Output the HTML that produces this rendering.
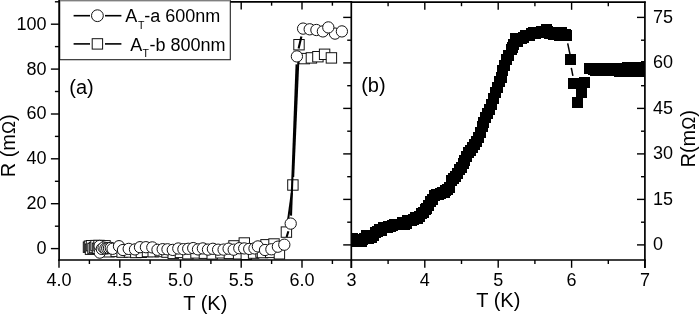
<!DOCTYPE html>
<html><head><meta charset="utf-8"><title>R-T plot</title>
<style>html,body{margin:0;padding:0;background:#fff}svg{display:block}</style></head>
<body>
<svg width="700" height="315" viewBox="0 0 700 315" font-family="Liberation Sans, Arial, sans-serif">
<rect width="700" height="315" fill="#fff"/>
<g stroke="#000" stroke-width="1.4" fill="none">
<line x1="50.9" y1="248.6" x2="58.9" y2="248.6"/>
<line x1="54.9" y1="226.2" x2="58.9" y2="226.2"/>
<line x1="50.9" y1="203.7" x2="58.9" y2="203.7"/>
<line x1="54.9" y1="181.3" x2="58.9" y2="181.3"/>
<line x1="50.9" y1="158.8" x2="58.9" y2="158.8"/>
<line x1="54.9" y1="136.4" x2="58.9" y2="136.4"/>
<line x1="50.9" y1="114.0" x2="58.9" y2="114.0"/>
<line x1="54.9" y1="91.5" x2="58.9" y2="91.5"/>
<line x1="50.9" y1="69.1" x2="58.9" y2="69.1"/>
<line x1="54.9" y1="46.6" x2="58.9" y2="46.6"/>
<line x1="50.9" y1="24.2" x2="58.9" y2="24.2"/>
<line x1="54.9" y1="1.8" x2="58.9" y2="1.8"/>
<line x1="59.0" y1="260" x2="59.0" y2="267.8"/>
<line x1="89.4" y1="260" x2="89.4" y2="264"/>
<line x1="89.4" y1="1.8" x2="89.4" y2="5.7"/>
<line x1="119.8" y1="260" x2="119.8" y2="267.8"/>
<line x1="119.8" y1="1.8" x2="119.8" y2="9.4"/>
<line x1="150.1" y1="260" x2="150.1" y2="264"/>
<line x1="150.1" y1="1.8" x2="150.1" y2="5.7"/>
<line x1="180.5" y1="260" x2="180.5" y2="267.8"/>
<line x1="180.5" y1="1.8" x2="180.5" y2="9.4"/>
<line x1="210.9" y1="260" x2="210.9" y2="264"/>
<line x1="210.9" y1="1.8" x2="210.9" y2="5.7"/>
<line x1="241.2" y1="260" x2="241.2" y2="267.8"/>
<line x1="241.2" y1="1.8" x2="241.2" y2="9.4"/>
<line x1="271.6" y1="260" x2="271.6" y2="264"/>
<line x1="271.6" y1="1.8" x2="271.6" y2="5.7"/>
<line x1="302.0" y1="260" x2="302.0" y2="267.8"/>
<line x1="302.0" y1="1.8" x2="302.0" y2="9.4"/>
<line x1="332.4" y1="260" x2="332.4" y2="264"/>
<line x1="332.4" y1="1.8" x2="332.4" y2="5.7"/>
<line x1="351.4" y1="260" x2="351.4" y2="267.8"/>
<line x1="388.1" y1="260" x2="388.1" y2="264"/>
<line x1="388.1" y1="2.2" x2="388.1" y2="6.2"/>
<line x1="424.8" y1="260" x2="424.8" y2="267.8"/>
<line x1="424.8" y1="2.2" x2="424.8" y2="9.8"/>
<line x1="461.5" y1="260" x2="461.5" y2="264"/>
<line x1="461.5" y1="2.2" x2="461.5" y2="6.2"/>
<line x1="498.2" y1="260" x2="498.2" y2="267.8"/>
<line x1="498.2" y1="2.2" x2="498.2" y2="9.8"/>
<line x1="534.9" y1="260" x2="534.9" y2="264"/>
<line x1="534.9" y1="2.2" x2="534.9" y2="6.2"/>
<line x1="571.6" y1="260" x2="571.6" y2="267.8"/>
<line x1="571.6" y1="2.2" x2="571.6" y2="9.8"/>
<line x1="608.3" y1="260" x2="608.3" y2="264"/>
<line x1="608.3" y1="2.2" x2="608.3" y2="6.2"/>
<line x1="645.0" y1="260" x2="645.0" y2="267.8"/>
<line x1="343.2" y1="244.9" x2="351.3" y2="244.9"/>
<line x1="637" y1="244.9" x2="644.9" y2="244.9"/>
<line x1="347.2" y1="222.2" x2="351.3" y2="222.2"/>
<line x1="641" y1="222.2" x2="644.9" y2="222.2"/>
<line x1="343.2" y1="199.4" x2="351.3" y2="199.4"/>
<line x1="637" y1="199.4" x2="644.9" y2="199.4"/>
<line x1="347.2" y1="176.7" x2="351.3" y2="176.7"/>
<line x1="641" y1="176.7" x2="644.9" y2="176.7"/>
<line x1="343.2" y1="153.9" x2="351.3" y2="153.9"/>
<line x1="637" y1="153.9" x2="644.9" y2="153.9"/>
<line x1="347.2" y1="131.2" x2="351.3" y2="131.2"/>
<line x1="641" y1="131.2" x2="644.9" y2="131.2"/>
<line x1="343.2" y1="108.4" x2="351.3" y2="108.4"/>
<line x1="637" y1="108.4" x2="644.9" y2="108.4"/>
<line x1="347.2" y1="85.7" x2="351.3" y2="85.7"/>
<line x1="641" y1="85.7" x2="644.9" y2="85.7"/>
<line x1="343.2" y1="62.9" x2="351.3" y2="62.9"/>
<line x1="637" y1="62.9" x2="644.9" y2="62.9"/>
<line x1="347.2" y1="40.2" x2="351.3" y2="40.2"/>
<line x1="641" y1="40.2" x2="644.9" y2="40.2"/>
<line x1="343.2" y1="17.4" x2="351.3" y2="17.4"/>
<line x1="637" y1="17.4" x2="644.9" y2="17.4"/>
</g>
<g id="sqseries">
<line x1="281.8" y1="246.2" x2="283.9" y2="239.7" stroke="#000" stroke-width="2.0"/>
<line x1="287.5" y1="224.2" x2="291.8" y2="192.9" stroke="#000" stroke-width="2.0"/>
<line x1="293.2" y1="177.0" x2="298.7" y2="52.7" stroke="#000" stroke-width="2.0"/>
<g fill="#fff" stroke="#111" stroke-width="1">
<rect x="83.3" y="242.0" width="10.4" height="10.4"/>
<rect x="84.3" y="241.0" width="10.4" height="10.4"/>
<rect x="85.3" y="244.0" width="10.4" height="10.4"/>
<rect x="86.3" y="240.5" width="10.4" height="10.4"/>
<rect x="87.8" y="243.3" width="10.4" height="10.4"/>
<rect x="89.3" y="242.3" width="10.4" height="10.4"/>
<rect x="90.8" y="240.4" width="10.4" height="10.4"/>
<rect x="92.3" y="243.1" width="10.4" height="10.4"/>
<rect x="93.8" y="240.3" width="10.4" height="10.4"/>
<rect x="95.3" y="242.7" width="10.4" height="10.4"/>
<rect x="97.3" y="240.5" width="10.4" height="10.4"/>
<rect x="99.8" y="240.6" width="10.4" height="10.4"/>
<rect x="103.8" y="246.6" width="10.4" height="10.4"/>
<rect x="111.0" y="246.2" width="10.4" height="10.4"/>
<rect x="116.9" y="246.9" width="10.4" height="10.4"/>
<rect x="124.3" y="246.8" width="10.4" height="10.4"/>
<rect x="130.6" y="247.3" width="10.4" height="10.4"/>
<rect x="136.2" y="247.1" width="10.4" height="10.4"/>
<rect x="142.3" y="246.3" width="10.4" height="10.4"/>
<rect x="148.0" y="246.5" width="10.4" height="10.4"/>
<rect x="155.1" y="246.3" width="10.4" height="10.4"/>
<rect x="161.8" y="246.9" width="10.4" height="10.4"/>
<rect x="168.0" y="248.2" width="10.4" height="10.4"/>
<rect x="175.2" y="247.2" width="10.4" height="10.4"/>
<rect x="182.7" y="248.5" width="10.4" height="10.4"/>
<rect x="190.8" y="247.7" width="10.4" height="10.4"/>
<rect x="199.2" y="248.0" width="10.4" height="10.4"/>
<rect x="207.0" y="248.7" width="10.4" height="10.4"/>
<rect x="215.7" y="247.6" width="10.4" height="10.4"/>
<rect x="224.2" y="248.2" width="10.4" height="10.4"/>
<rect x="228.8" y="240.7" width="10.4" height="10.4"/>
<rect x="233.4" y="248.6" width="10.4" height="10.4"/>
<rect x="239.1" y="237.8" width="10.4" height="10.4"/>
<rect x="241.1" y="249.1" width="10.4" height="10.4"/>
<rect x="248.4" y="247.9" width="10.4" height="10.4"/>
<rect x="255.8" y="246.9" width="10.4" height="10.4"/>
<rect x="257.3" y="247.4" width="10.4" height="10.4"/>
<rect x="260.8" y="239.6" width="10.4" height="10.4"/>
<rect x="265.5" y="247.2" width="10.4" height="10.4"/>
<rect x="268.8" y="238.8" width="10.4" height="10.4"/>
<rect x="274.2" y="248.6" width="10.4" height="10.4"/>
<rect x="281.2" y="226.9" width="10.4" height="10.4"/>
<rect x="287.7" y="179.8" width="10.4" height="10.4"/>
<rect x="293.8" y="39.5" width="10.4" height="10.4"/>
<rect x="299.1" y="53.4" width="10.4" height="10.4"/>
<rect x="306.2" y="52.7" width="10.4" height="10.4"/>
<rect x="312.7" y="51.5" width="10.4" height="10.4"/>
<rect x="319.4" y="49.1" width="10.4" height="10.4"/>
<rect x="326.2" y="52.7" width="10.4" height="10.4"/>
</g></g>
<g id="ciseries">
<line x1="286.6" y1="237.0" x2="288.4" y2="231.3" stroke="#000" stroke-width="2.1"/>
<line x1="291.0" y1="215.6" x2="296.6" y2="64.4" stroke="#000" stroke-width="2.1"/>
<line x1="298.6" y1="48.6" x2="301.4" y2="36.4" stroke="#000" stroke-width="2.1"/>
<g fill="#fff" stroke="#111" stroke-width="1">
<circle cx="99.6" cy="246.0" r="5.65"/>
<circle cx="99.8" cy="252.6" r="5.65"/>
<circle cx="101.8" cy="248.9" r="5.65"/>
<circle cx="103.6" cy="247.6" r="5.65"/>
<circle cx="105.4" cy="248.5" r="5.65"/>
<circle cx="107.2" cy="248.2" r="5.65"/>
<circle cx="109.0" cy="248.2" r="5.65"/>
<circle cx="110.8" cy="247.9" r="5.65"/>
<circle cx="112.6" cy="248.8" r="5.65"/>
<circle cx="119.0" cy="246.2" r="5.65"/>
<circle cx="123.0" cy="250.0" r="5.65"/>
<circle cx="128.7" cy="248.9" r="5.65"/>
<circle cx="135.0" cy="249.4" r="5.65"/>
<circle cx="140.0" cy="247.2" r="5.65"/>
<circle cx="145.9" cy="247.2" r="5.65"/>
<circle cx="152.3" cy="247.4" r="5.65"/>
<circle cx="157.5" cy="249.8" r="5.65"/>
<circle cx="162.7" cy="249.2" r="5.65"/>
<circle cx="167.5" cy="249.3" r="5.65"/>
<circle cx="172.8" cy="249.9" r="5.65"/>
<circle cx="178.3" cy="248.5" r="5.65"/>
<circle cx="183.4" cy="249.2" r="5.65"/>
<circle cx="188.2" cy="248.8" r="5.65"/>
<circle cx="193.2" cy="248.1" r="5.65"/>
<circle cx="198.0" cy="249.4" r="5.65"/>
<circle cx="202.9" cy="248.4" r="5.65"/>
<circle cx="208.0" cy="249.6" r="5.65"/>
<circle cx="212.9" cy="248.8" r="5.65"/>
<circle cx="218.1" cy="249.7" r="5.65"/>
<circle cx="223.6" cy="249.6" r="5.65"/>
<circle cx="228.6" cy="248.7" r="5.65"/>
<circle cx="233.7" cy="249.7" r="5.65"/>
<circle cx="239.3" cy="248.2" r="5.65"/>
<circle cx="244.2" cy="248.4" r="5.65"/>
<circle cx="249.2" cy="248.9" r="5.65"/>
<circle cx="254.5" cy="248.4" r="5.65"/>
<circle cx="257.9" cy="246.4" r="5.65"/>
<circle cx="265.0" cy="250.0" r="5.65"/>
<circle cx="271.4" cy="249.3" r="5.65"/>
<circle cx="277.9" cy="246.7" r="5.65"/>
<circle cx="284.3" cy="244.7" r="5.65"/>
<circle cx="290.7" cy="223.6" r="5.65"/>
<circle cx="296.9" cy="56.4" r="5.65"/>
<circle cx="303.1" cy="28.6" r="5.65"/>
<circle cx="309.7" cy="29.3" r="5.65"/>
<circle cx="316.4" cy="30.0" r="5.65"/>
<circle cx="322.9" cy="31.4" r="5.65"/>
<circle cx="335.0" cy="33.6" r="5.65"/>
<circle cx="328.3" cy="27.4" r="5.65"/>
<circle cx="341.9" cy="31.4" r="5.65"/>
</g></g>
<rect x="59.7" y="0.3" width="170.6" height="59.4" fill="#fff" stroke="#222" stroke-width="1.1"/>
<rect x="59.7" y="0" width="170.6" height="1.4" fill="#808080"/>
<g stroke="#000" stroke-width="1.6">
<line x1="73.6" y1="15.7" x2="90" y2="15.7"/><line x1="105" y1="15.7" x2="121.4" y2="15.7"/>
<line x1="73.6" y1="43.9" x2="90" y2="43.9"/><line x1="105" y1="43.9" x2="121.4" y2="43.9"/>
</g>
<circle cx="97.4" cy="15.7" r="5.9" fill="#fff" stroke="#111" stroke-width="1"/>
<rect x="92.2" y="38.7" width="10.4" height="10.4" fill="#fff" stroke="#111" stroke-width="1"/>
<text x="125.3" y="22.3" font-size="18">A</text><text x="137.9" y="29.2" font-size="10.5">T</text><text x="144.3" y="22.3" font-size="18">-a 600nm</text>
<text x="130.3" y="50.5" font-size="18">A</text><text x="142.4" y="57.4" font-size="10.5">T</text><text x="149.4" y="50.5" font-size="18">-b 800nm</text>
<clipPath id="cr"><rect x="351.3" y="2.2" width="293.6" height="257.8"/></clipPath>
<g clip-path="url(#cr)">
<g stroke="#000" stroke-width="1.5">
<line x1="567.7" y1="43.3" x2="570.0" y2="54.4"/>
<line x1="571.3" y1="67.8" x2="572.9" y2="75.9"/>
</g>
<g fill="#000" shape-rendering="crispEdges">
<rect x="352" y="236" width="11" height="11"/>
<rect x="356" y="236" width="11" height="11"/>
<rect x="346" y="233" width="11" height="11"/>
<rect x="347" y="233" width="11" height="11"/>
<rect x="349" y="234" width="11" height="11"/>
<rect x="351" y="235" width="11" height="11"/>
<rect x="353" y="234" width="11" height="11"/>
<rect x="355" y="234" width="11" height="11"/>
<rect x="357" y="234" width="11" height="11"/>
<rect x="359" y="233" width="11" height="11"/>
<rect x="361" y="230" width="11" height="11"/>
<rect x="363" y="233" width="11" height="11"/>
<rect x="364" y="232" width="11" height="11"/>
<rect x="366" y="232" width="11" height="11"/>
<rect x="368" y="230" width="11" height="11"/>
<rect x="370" y="227" width="11" height="11"/>
<rect x="372" y="226" width="11" height="11"/>
<rect x="374" y="224" width="11" height="11"/>
<rect x="376" y="225" width="11" height="11"/>
<rect x="378" y="222" width="11" height="11"/>
<rect x="380" y="222" width="11" height="11"/>
<rect x="382" y="222" width="11" height="11"/>
<rect x="383" y="221" width="11" height="11"/>
<rect x="385" y="221" width="11" height="11"/>
<rect x="387" y="220" width="11" height="11"/>
<rect x="389" y="219" width="11" height="11"/>
<rect x="391" y="219" width="11" height="11"/>
<rect x="393" y="219" width="11" height="11"/>
<rect x="395" y="219" width="11" height="11"/>
<rect x="397" y="217" width="11" height="11"/>
<rect x="399" y="219" width="11" height="11"/>
<rect x="401" y="218" width="11" height="11"/>
<rect x="402" y="215" width="11" height="11"/>
<rect x="404" y="215" width="11" height="11"/>
<rect x="406" y="215" width="11" height="11"/>
<rect x="408" y="214" width="11" height="11"/>
<rect x="410" y="212" width="11" height="11"/>
<rect x="412" y="213" width="11" height="11"/>
<rect x="414" y="211" width="11" height="11"/>
<rect x="416" y="208" width="11" height="11"/>
<rect x="418" y="207" width="11" height="11"/>
<rect x="420" y="204" width="11" height="11"/>
<rect x="421" y="203" width="11" height="11"/>
<rect x="423" y="200" width="11" height="11"/>
<rect x="425" y="196" width="11" height="11"/>
<rect x="427" y="194" width="11" height="11"/>
<rect x="429" y="190" width="11" height="11"/>
<rect x="431" y="189" width="11" height="11"/>
<rect x="433" y="189" width="11" height="11"/>
<rect x="435" y="188" width="11" height="11"/>
<rect x="437" y="187" width="11" height="11"/>
<rect x="439" y="187" width="11" height="11"/>
<rect x="440" y="185" width="11" height="11"/>
<rect x="442" y="184" width="11" height="11"/>
<rect x="444" y="182" width="11" height="11"/>
<rect x="446" y="175" width="11" height="11"/>
<rect x="448" y="173" width="11" height="11"/>
<rect x="450" y="171" width="11" height="11"/>
<rect x="452" y="168" width="11" height="11"/>
<rect x="454" y="164" width="11" height="11"/>
<rect x="456" y="162" width="11" height="11"/>
<rect x="458" y="158" width="11" height="11"/>
<rect x="459" y="155" width="11" height="11"/>
<rect x="461" y="151" width="11" height="11"/>
<rect x="463" y="147" width="11" height="11"/>
<rect x="465" y="145" width="11" height="11"/>
<rect x="467" y="142" width="11" height="11"/>
<rect x="469" y="139" width="11" height="11"/>
<rect x="471" y="136" width="11" height="11"/>
<rect x="473" y="132" width="11" height="11"/>
<rect x="475" y="127" width="11" height="11"/>
<rect x="477" y="121" width="11" height="11"/>
<rect x="478" y="117" width="11" height="11"/>
<rect x="480" y="112" width="11" height="11"/>
<rect x="482" y="108" width="11" height="11"/>
<rect x="484" y="104" width="11" height="11"/>
<rect x="486" y="99" width="11" height="11"/>
<rect x="488" y="93" width="11" height="11"/>
<rect x="490" y="87" width="11" height="11"/>
<rect x="492" y="82" width="11" height="11"/>
<rect x="494" y="76" width="11" height="11"/>
<rect x="496" y="72" width="11" height="11"/>
<rect x="497" y="65" width="11" height="11"/>
<rect x="499" y="60" width="11" height="11"/>
<rect x="501" y="54" width="11" height="11"/>
<rect x="503" y="50" width="11" height="11"/>
<rect x="506" y="44" width="11" height="11"/>
<rect x="507" y="42" width="11" height="11"/>
<rect x="508" y="39" width="11" height="11"/>
<rect x="510" y="33" width="11" height="11"/>
<rect x="512" y="36" width="11" height="11"/>
<rect x="516" y="33" width="11" height="11"/>
<rect x="518" y="32" width="11" height="11"/>
<rect x="520" y="30" width="11" height="11"/>
<rect x="524" y="30" width="11" height="11"/>
<rect x="526" y="28" width="11" height="11"/>
<rect x="528" y="27" width="11" height="11"/>
<rect x="530" y="28" width="11" height="11"/>
<rect x="533" y="27" width="11" height="11"/>
<rect x="536" y="26" width="11" height="11"/>
<rect x="538" y="26" width="11" height="11"/>
<rect x="541" y="24" width="11" height="11"/>
<rect x="542" y="26" width="11" height="11"/>
<rect x="544" y="28" width="11" height="11"/>
<rect x="548" y="29" width="11" height="11"/>
<rect x="550" y="28" width="11" height="11"/>
<rect x="552" y="27" width="11" height="11"/>
<rect x="554" y="30" width="11" height="11"/>
<rect x="556" y="27" width="11" height="11"/>
<rect x="558" y="30" width="11" height="11"/>
<rect x="560" y="29" width="11" height="11"/>
<rect x="561" y="30" width="11" height="11"/>
<rect x="565" y="54" width="11" height="11"/>
<rect x="568" y="78" width="11" height="11"/>
<rect x="572" y="97" width="11" height="11"/>
<rect x="576" y="87" width="11" height="11"/>
<rect x="579" y="77" width="11" height="11"/>
<rect x="584" y="63" width="11" height="11"/>
<rect x="585" y="63" width="11" height="11"/>
<rect x="587" y="63" width="11" height="11"/>
<rect x="588" y="64" width="11" height="11"/>
<rect x="590" y="65" width="11" height="11"/>
<rect x="592" y="65" width="11" height="11"/>
<rect x="593" y="64" width="11" height="11"/>
<rect x="595" y="65" width="11" height="11"/>
<rect x="596" y="65" width="11" height="11"/>
<rect x="598" y="63" width="11" height="11"/>
<rect x="600" y="65" width="11" height="11"/>
<rect x="601" y="65" width="11" height="11"/>
<rect x="603" y="65" width="11" height="11"/>
<rect x="604" y="65" width="11" height="11"/>
<rect x="606" y="64" width="11" height="11"/>
<rect x="608" y="63" width="11" height="11"/>
<rect x="609" y="65" width="11" height="11"/>
<rect x="611" y="63" width="11" height="11"/>
<rect x="612" y="65" width="11" height="11"/>
<rect x="614" y="66" width="11" height="11"/>
<rect x="616" y="64" width="11" height="11"/>
<rect x="617" y="64" width="11" height="11"/>
<rect x="619" y="66" width="11" height="11"/>
<rect x="620" y="65" width="11" height="11"/>
<rect x="622" y="62" width="11" height="11"/>
<rect x="624" y="62" width="11" height="11"/>
<rect x="625" y="62" width="11" height="11"/>
<rect x="627" y="66" width="11" height="11"/>
<rect x="628" y="65" width="11" height="11"/>
<rect x="630" y="62" width="11" height="11"/>
<rect x="632" y="65" width="11" height="11"/>
<rect x="633" y="66" width="11" height="11"/>
<rect x="635" y="64" width="11" height="11"/>
<rect x="636" y="63" width="11" height="11"/>
<rect x="638" y="64" width="11" height="11"/>
<rect x="640" y="62" width="11" height="11"/>
<rect x="641" y="61" width="11" height="11"/>
<rect x="643" y="66" width="11" height="11"/>
<rect x="644" y="64" width="11" height="11"/>
<rect x="646" y="64" width="11" height="11"/>
</g></g>
<g stroke="#000" stroke-width="1.7" fill="none" stroke-linecap="butt">
<line x1="59.1" y1="0" x2="59.1" y2="260.8"/>
<line x1="58.25" y1="260" x2="645.75" y2="260"/>
<line x1="230.3" y1="1.8" x2="351.4" y2="1.8"/>
<line x1="351.4" y1="2.2" x2="645.75" y2="2.2"/>
<line x1="351.3" y1="1" x2="351.3" y2="268"/>
<line x1="644.9" y1="1.4" x2="644.9" y2="268"/>
</g>
<g font-size="18" fill="#000">
<text x="46.6" y="254.0" text-anchor="end">0</text>
<text x="46.6" y="209.1" text-anchor="end">20</text>
<text x="46.6" y="164.2" text-anchor="end">40</text>
<text x="46.6" y="119.4" text-anchor="end">60</text>
<text x="46.6" y="74.5" text-anchor="end">80</text>
<text x="46.6" y="29.6" text-anchor="end">100</text>
<text x="59.0" y="286.4" text-anchor="middle">4.0</text>
<text x="119.8" y="286.4" text-anchor="middle">4.5</text>
<text x="180.5" y="286.4" text-anchor="middle">5.0</text>
<text x="241.2" y="286.4" text-anchor="middle">5.5</text>
<text x="302.0" y="286.4" text-anchor="middle">6.0</text>
<text x="351.4" y="286.4" text-anchor="middle">3</text>
<text x="424.8" y="286.4" text-anchor="middle">4</text>
<text x="498.2" y="286.4" text-anchor="middle">5</text>
<text x="571.6" y="286.4" text-anchor="middle">6</text>
<text x="645.0" y="286.4" text-anchor="middle">7</text>
<text x="653" y="250.1">0</text>
<text x="653" y="204.6">15</text>
<text x="653" y="159.1">30</text>
<text x="653" y="113.6">45</text>
<text x="653" y="68.1">60</text>
<text x="653" y="22.6">75</text>
</g>
<g font-size="20" fill="#000">
<text x="69.3" y="94.4">(a)</text>
<text x="361.2" y="92.3">(b)</text>
<text x="205.3" y="309.5" text-anchor="middle">T (K)</text>
<text x="498.3" y="307.2" text-anchor="middle">T (K)</text>
<text transform="translate(14.9,177.3) rotate(-90)">R (m<tspan font-size="17.5">Ω</tspan>)</text>
<text transform="translate(695.1,167.5) rotate(-90)">R(m<tspan font-size="17.5">Ω</tspan>)</text>
</g>
</svg>
</body></html>
